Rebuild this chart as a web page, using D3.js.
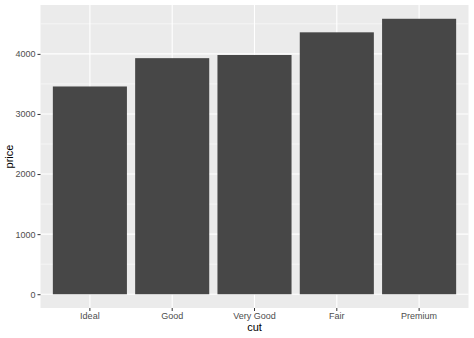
<!DOCTYPE html>
<html>
<head>
<meta charset="utf-8">
<script src="https://cdn.jsdelivr.net/npm/d3@7"></script>
<style>
  body { margin: 0; background: #fff; }
  text { font-family: "Liberation Sans", Arial, sans-serif; }
</style>
</head>
<body>
<svg id="chart" width="474" height="338"></svg>
<script>
// data: mean price per cut
const cuts = ["Ideal", "Good", "Very Good", "Fair", "Premium"];
const prices = [3457.5, 3928.9, 3981.8, 4358.8, 4584.3];
const yTicks = [0, 1000, 2000, 3000, 4000];
const yMinor = [500, 1500, 2500, 3500, 4500];

const width = 474, height = 338;
const panel = { left: 40.5, right: 468.5, top: 5, bottom: 308 };

const svg = d3.select("#chart");

// x: band scale with ggplot-style 0.6 expansion on each side
const step = (panel.right - panel.left) / (cuts.length + 0.2);
const x = d3.scaleBand()
    .domain(cuts)
    .range([panel.left + 0.1 * step, panel.right - 0.1 * step])
    .paddingInner(0.1)
    .paddingOuter(0.05);

const yMax = d3.max(prices);
const yPad = yMax * 0.05;
const y = d3.scaleLinear()
    .domain([-yPad, yMax + yPad])
    .range([panel.bottom, panel.top]);

// panel background
svg.append("rect")
    .attr("x", panel.left).attr("y", panel.top)
    .attr("width", panel.right - panel.left)
    .attr("height", panel.bottom - panel.top)
    .attr("fill", "#ebebeb");

// minor grid
svg.append("g").selectAll("line")
    .data(yMinor)
    .join("line")
    .attr("x1", panel.left).attr("x2", panel.right)
    .attr("y1", d => y(d)).attr("y2", d => y(d))
    .attr("stroke", "#fff").attr("stroke-width", 0.55);

// major grid
svg.append("g").selectAll("line")
    .data(yTicks)
    .join("line")
    .attr("x1", panel.left).attr("x2", panel.right)
    .attr("y1", d => y(d)).attr("y2", d => y(d))
    .attr("stroke", "#fff").attr("stroke-width", 1.1);

svg.append("g").selectAll("line")
    .data(cuts)
    .join("line")
    .attr("x1", d => x(d) + x.bandwidth() / 2).attr("x2", d => x(d) + x.bandwidth() / 2)
    .attr("y1", panel.top).attr("y2", panel.bottom)
    .attr("stroke", "#fff").attr("stroke-width", 1.1);

// bars
svg.append("g").selectAll("rect")
    .data(cuts)
    .join("rect")
    .attr("x", d => x(d))
    .attr("width", x.bandwidth())
    .attr("y", (d, i) => y(prices[i]))
    .attr("height", (d, i) => y(0) - y(prices[i]))
    .attr("fill", "#474747");

// y axis
const yAxis = svg.append("g")
    .attr("transform", `translate(${panel.left},0)`)
    .call(d3.axisLeft(y).tickValues(yTicks).tickFormat(d3.format("d")).tickSize(3).tickPadding(2));
yAxis.select(".domain").remove();
yAxis.selectAll("line").attr("stroke", "#333").attr("stroke-width", 1);
yAxis.selectAll("text").attr("fill", "#4d4d4d").attr("font-size", 9);

// x axis
const xAxis = svg.append("g")
    .attr("transform", `translate(0,${panel.bottom})`)
    .call(d3.axisBottom(x).tickSize(3).tickPadding(2));
xAxis.select(".domain").remove();
xAxis.selectAll("line").attr("stroke", "#333").attr("stroke-width", 1);
xAxis.selectAll("text").attr("fill", "#4d4d4d").attr("font-size", 9);

// axis titles
svg.append("text")
    .attr("x", (panel.left + panel.right) / 2)
    .attr("y", 331)
    .attr("text-anchor", "middle")
    .attr("font-size", 11)
    .text("cut");

svg.append("text")
    .attr("transform", `translate(13,${(panel.top + panel.bottom) / 2}) rotate(-90)`)
    .attr("text-anchor", "middle")
    .attr("font-size", 11)
    .text("price");
</script>
</body>
</html>
